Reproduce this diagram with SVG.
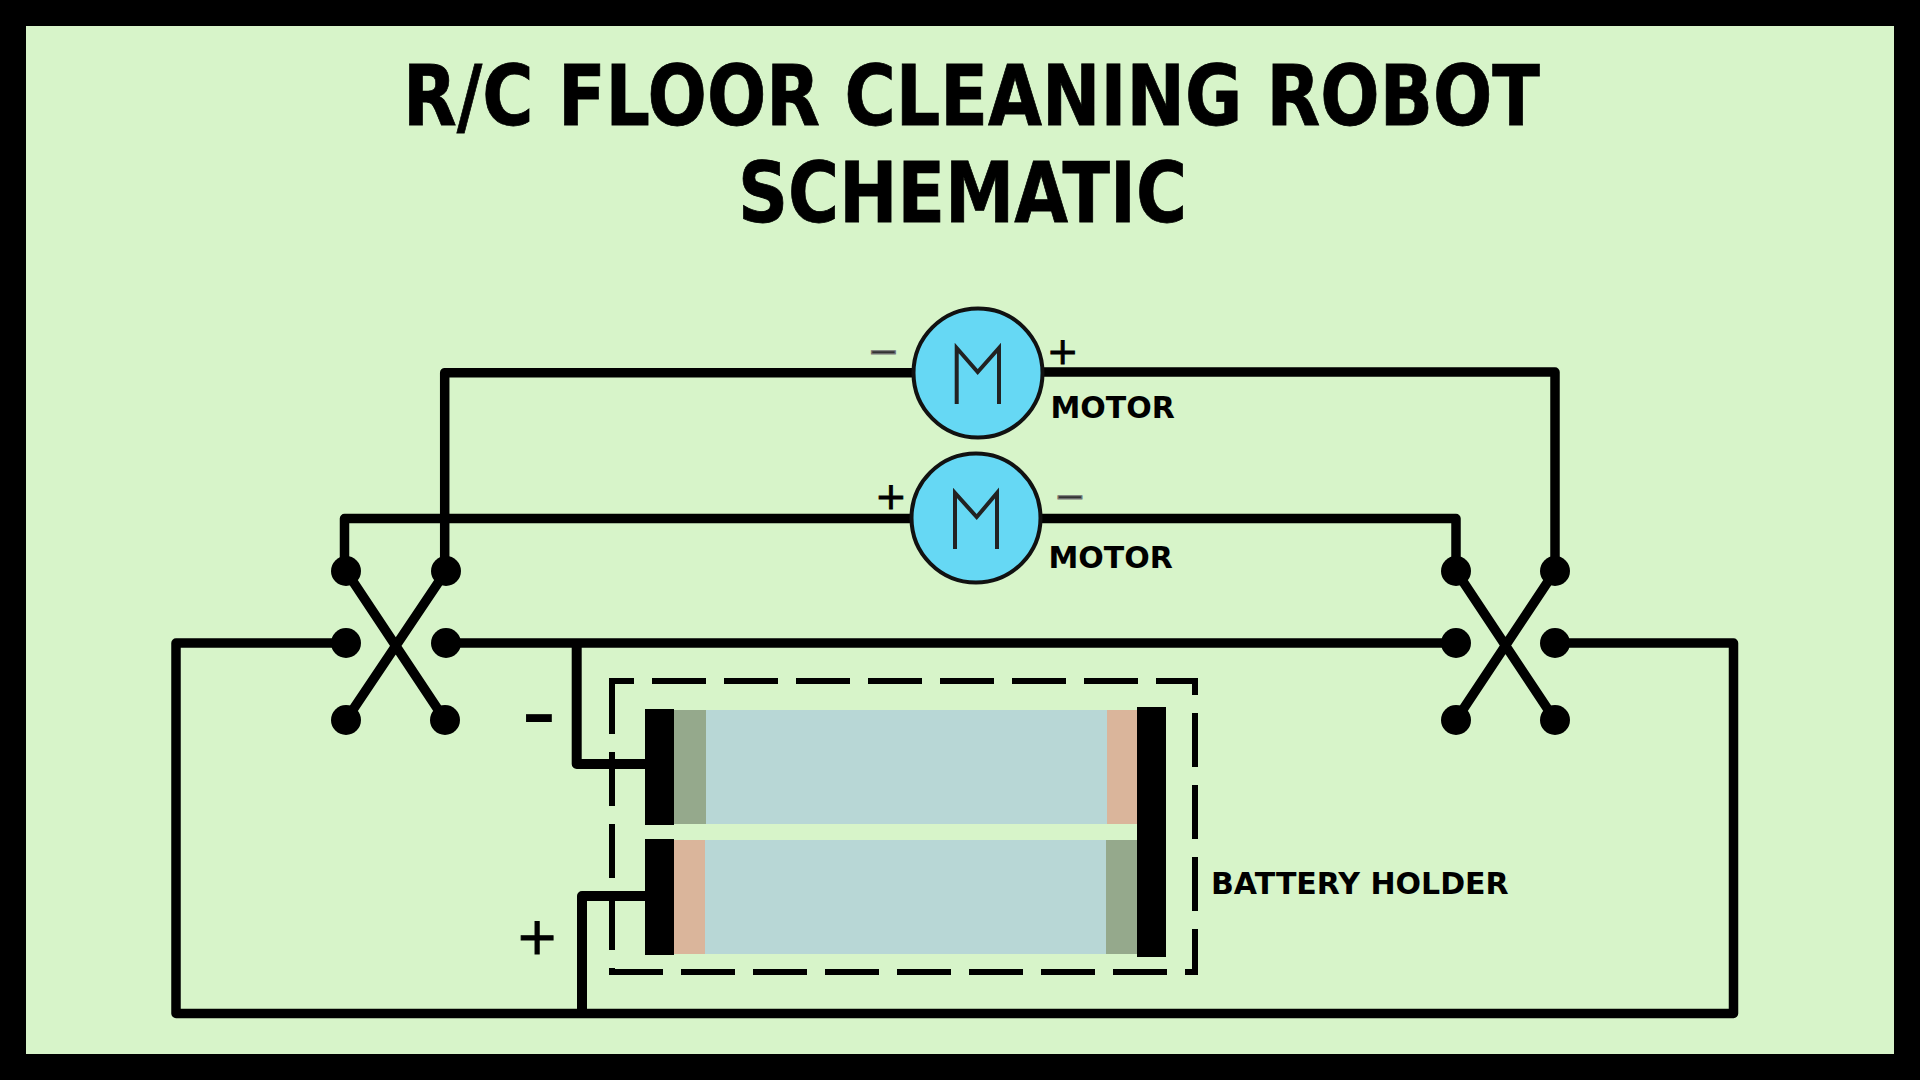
<svg xmlns="http://www.w3.org/2000/svg" width="1920" height="1080" viewBox="0 0 1920 1080">
<style>
text{font-family:"DejaVu Sans",sans-serif;fill:#000}
.title{font-size:84px;font-weight:700;stroke:#000;stroke-width:.8px}
.label{font-size:30px;font-weight:700}
.w{fill:none;stroke:#000;stroke-width:9.5;stroke-linejoin:round}
.w2{fill:none;stroke:#000;stroke-width:10;stroke-linejoin:round}
.d{fill:none;stroke:#000;stroke-width:6;stroke-dasharray:54 18}
.dot{fill:#000}
.sw{stroke:#000;stroke-width:9.5;fill:none}
.motor{fill:#66d8f4;stroke:#111;stroke-width:4}
.m{fill:none;stroke:#222;stroke-width:4}
.sign{font-size:38px;text-anchor:middle;stroke:#000;stroke-width:.8px}
.minus{fill:#333;stroke:#777;stroke-width:1.2px}
.big{stroke:#000;stroke-width:1px;text-anchor:middle;font-size:51px}
</style>
<rect width="1920" height="1080" fill="#000"/>
<rect x="26" y="26" width="1868" height="1028" fill="#d7f4c9"/>
<g id="title">
<text class="title" x="403" y="125" textLength="1137" lengthAdjust="spacingAndGlyphs">R/C FLOOR CLEANING ROBOT</text>
<text class="title" x="738" y="222" textLength="449" lengthAdjust="spacingAndGlyphs">SCHEMATIC</text>
</g>
<g id="connectors">
<path class="w" d="M444.7 571V372.7H915"/>
<path class="w" d="M1040 372H1555V571"/>
<path class="w" d="M344.5 571V518.5H913"/>
<path class="w" d="M1040 518.5H1456V571"/>
<path class="w" d="M346 643H176V1013.5H1733.5V643H1555"/>
<path class="w" d="M446 643H1456"/>
<path class="w2" d="M576.7 643V764H650"/>
<path class="w2" d="M582 1013V896H650"/>
</g>
<g id="switch-left">
<path class="sw" d="M346 571L445 720M446 571L346 720"/>
<circle class="dot" cx="346" cy="571" r="15"/><circle class="dot" cx="446" cy="571" r="15"/>
<circle class="dot" cx="346" cy="643" r="15"/><circle class="dot" cx="446" cy="643" r="15"/>
<circle class="dot" cx="346" cy="720" r="15"/><circle class="dot" cx="445" cy="720" r="15"/>
</g>
<g id="switch-right">
<path class="sw" d="M1456 571L1555 720M1555 571L1456 720"/>
<circle class="dot" cx="1456" cy="571" r="15"/><circle class="dot" cx="1555" cy="571" r="15"/>
<circle class="dot" cx="1456" cy="643" r="15"/><circle class="dot" cx="1555" cy="643" r="15"/>
<circle class="dot" cx="1456" cy="720" r="15"/><circle class="dot" cx="1555" cy="720" r="15"/>
</g>
<g id="motor-top">
<circle class="motor" cx="978" cy="373" r="64.500"/>
<path class="m" d="M956.7 404V348L977.7 372L999 348V404"/>
<text class="sign minus" x="883.500" y="364">−</text>
<text class="sign" x="1062.700" y="364">+</text>
<text class="label" x="1050.500" y="417.700">MOTOR</text>
</g>
<g id="motor-bottom">
<circle class="motor" cx="976" cy="518" r="64.500"/>
<path class="m" d="M955 549V493L976.700 517L997 493V549"/>
<text class="sign" x="891" y="509">+</text>
<text class="sign minus" x="1070" y="509">−</text>
<text class="label" x="1048.500" y="567.500">MOTOR</text>
</g>
<g id="battery-holder">
<rect x="706" y="710" width="401" height="114" fill="#b8d7d6"/>
<rect x="705" y="840" width="401" height="114" fill="#b8d7d6"/>
<rect x="674" y="710" width="32" height="114" fill="#95a98c"/>
<rect x="1107" y="710" width="30" height="114" fill="#dab59b"/>
<rect x="674" y="840" width="31" height="114" fill="#dab59b"/>
<rect x="1106" y="840" width="31" height="114" fill="#95a98c"/>
<rect x="645" y="709" width="29" height="116" fill="#000"/>
<rect x="645" y="839" width="29" height="116" fill="#000"/>
<rect x="1137" y="707" width="29" height="250" fill="#000"/>
<path class="d" d="M609 681H1198" stroke-dashoffset="29"/>
<path class="d" d="M1195 678V974" stroke-dashoffset="37"/>
<path class="d" d="M609 972H1198"/>
<path class="d" d="M612 680V975"/>
<text x="539" y="744.500" font-size="98" text-anchor="middle">-</text>
<text class="big" x="537" y="954">+</text>
<text class="label" x="1211" y="894">BATTERY HOLDER</text>
</g>
</svg>
